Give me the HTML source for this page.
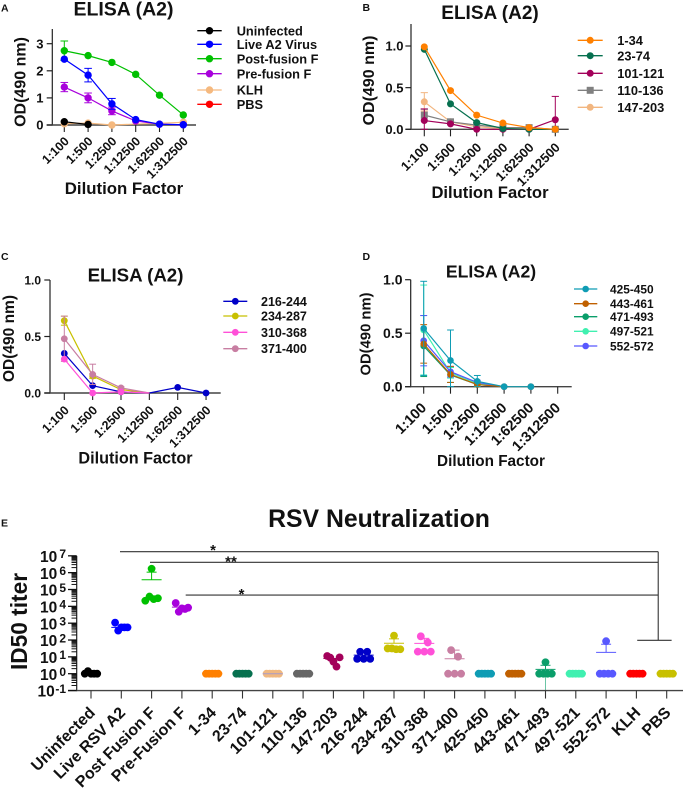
<!DOCTYPE html>
<html lang="en">
<head>
<meta charset="utf-8">
<title>ELISA and RSV Neutralization</title>
<style>
html,body{margin:0;padding:0;background:#fff;}
svg{display:block;}
text{font-family:"Liberation Sans",Arial,sans-serif;font-weight:bold;fill:#111;}
</style>
</head>
<body>
<svg id="fig" width="685" height="793" viewBox="0 0 685 793" xmlns="http://www.w3.org/2000/svg">
  <text x="1" y="11.7" font-size="10.5">A</text>
  <text x="362.5" y="11" font-size="10.5">B</text>
  <text x="1" y="260" font-size="10.5">C</text>
  <text x="362.5" y="260" font-size="10.5">D</text>
  <text x="1" y="526.5" font-size="10.5">E</text>

  <text x="123.5" y="15.5" font-size="19.5" text-anchor="middle">ELISA (A2)</text>
  <text x="490" y="19" font-size="19" text-anchor="middle">ELISA (A2)</text>
  <text x="135.5" y="281.7" font-size="18.7" text-anchor="middle">ELISA (A2)</text>
  <text x="491" y="277.3" font-size="17.6" text-anchor="middle">ELISA (A2)</text>
  <text x="379" y="527" font-size="24.8" text-anchor="middle">RSV Neutralization</text>

  <text transform="translate(25.7 82) rotate(-90)" font-size="16" text-anchor="middle">OD(490 nm)</text>
  <text transform="translate(374 80.5) rotate(-90)" font-size="16" text-anchor="middle">OD(490 nm)</text>
  <text transform="translate(14 338.5) rotate(-90)" font-size="15.5" text-anchor="middle">OD(490 nm)</text>
  <text transform="translate(370.7 334) rotate(-90)" font-size="14.8" text-anchor="middle">OD(490 nm)</text>
  <text transform="translate(27 621.5) rotate(-90)" font-size="22.7" text-anchor="middle">ID50 titer</text>

  <text x="124" y="194" font-size="16.8" text-anchor="middle">Dilution Factor</text>
  <text x="490" y="198" font-size="16.6" text-anchor="middle">Dilution Factor</text>
  <text x="135.5" y="463.3" font-size="16.2" text-anchor="middle">Dilution Factor</text>
  <text x="491" y="466" font-size="15.3" text-anchor="middle">Dilution Factor</text>
</svg>
<script>
// ---------- Shared categories ----------
const dilutionCategories = ['1:100', '1:500', '1:2500', '1:12500', '1:62500', '1:312500'];

// ---------- Chart A ----------
const aTicks = [0, 1, 2, 3];
const aNames = ['PBS', 'KLH', 'Pre-fusion F', 'Post-fusion F', 'Live A2 Virus', 'Uninfected'];
const aColors = ['#ff0000', '#f5b97f', '#a800dc', '#00c000', '#0000ff', '#000000'];
const aPbs = [null, null, null, null, null, null];
const aKlh = [0.05, 0.07, 0, null, null, 0.1];
const aPre = [1.4, 1.0, 0.52, 0.15, 0.03, 0.01];
const aPost = [2.74, 2.56, 2.31, 1.87, 1.1, 0.37];
const aLive = [2.43, 1.84, 0.78, 0.2, 0.03, 0.01];
const aUninfected = [0.12, 0.02, null, null, null, null];
const aPreErr = [0.17, 0.18, 0.14, 0, 0, 0];
const aPostErr = [0.36, 0, 0, 0, 0, 0];
const aLiveErr = [0, 0.25, 0.2, 0, 0, 0];
const aNoErr = [0, 0, 0, 0, 0, 0];

// ---------- Chart B ----------
const bTicks = [0, 0.5, 1];
const bNames = ['147-203', '110-136', '101-121', '23-74', '1-34'];
const bColors = ['#f2b680', '#808080', '#a3005a', '#06704f', '#ff8000'];
const b147 = [0.33, 0.09, 0.03, 0.01, 0.01, 0];
const b110 = [0.17, 0.09, 0.05, 0.02, 0.02, 0];
const b101 = [0.105, 0.065, 0, 0, 0, 0.115];
const b23 = [0.96, 0.305, 0.08, 0.01, 0, 0];
const b1 = [0.99, 0.465, 0.17, 0.075, 0.02, 0];
const b147Err = [0.11, 0, 0, 0, 0, 0];
const b110Err = [0.07, 0, 0, 0, 0, 0];
const b101Err = [0.14, 0, 0, 0, 0, 0.28];
const bNoErr = [0, 0, 0, 0, 0, 0];

// ---------- Chart C ----------
const cTicks = [0, 0.5, 1];
const cNames = ['216-244', '234-287', '371-400', '310-368'];
const cColors = ['#0000c8', '#c8c000', '#c87ea2', '#ff50d8'];
const c216 = [0.35, 0.065, 0.01, 0, 0.05, 0];
const c234 = [0.64, 0.15, 0.03, 0, null, null];
const c371 = [0.48, 0.165, 0.045, 0, null, null];
const c310 = [0.3, 0, 0.01, 0, null, null];
const c234Err = [0.04, 0.02, 0, 0, 0, 0];
const c371Err = [0.2, 0.09, 0.01, 0, 0, 0];
const cNoErr = [0, 0, 0, 0, 0, 0];

// ---------- Chart D ----------
const dTicks = [0, 0.5, 1];
const dNames = ['471-493', '497-521', '552-572', '443-461', '425-450'];
const dColors = ['#0a9e6a', '#40f0b0', '#5858ff', '#c06000', '#0f9cb4'];
const d471 = [0.38, 0.11, 0.02, 0, 0, null];
const d497 = [0.53, 0.13, 0.03, 0, 0, null];
const d552 = [0.43, 0.14, 0.04, 0, 0, null];
const d443 = [0.4, 0.115, 0.02, 0, 0, null];
const d425 = [0.545, 0.245, 0.05, 0, 0, null];
const d471Err = [0.285, 0.07, 0.02, 0, 0, 0];
const d497Err = [0.42, 0.05, 0.02, 0, 0, 0];
const d552Err = [0.235, 0.05, 0.02, 0, 0, 0];
const d443Err = [0.18, 0.075, 0.02, 0, 0, 0];
const d425Err = [0.44, 0.285, 0.055, 0, 0, 0];

// ---------- Chart E (log10 of ID50 titer) ----------
const eCategories = ['Uninfected', 'Live RSV A2', 'Post Fusion F', 'Pre-Fusion F', '1-34', '23-74', '101-121', '110-136', '147-203', '216-244', '234-287', '310-368', '371-400', '425-450', '443-461', '471-493', '497-521', '552-572', 'KLH', 'PBS'];
const eColors = ['#000000', '#0000ff', '#00c000', '#a800dc', '#ff8000', '#06704f', '#f0b880', '#666666', '#a3005a', '#0000c8', '#c8c000', '#ff50d8', '#c87ea2', '#0f9cb4', '#c06000', '#0a9e6a', '#40f0b0', '#5858ff', '#ff0000', '#c8c000'];
const eMeanColors = ['#000000', '#0000ff', '#00c000', '#a800dc', '#ff8000', '#06704f', '#a89ac8', '#666666', '#a3005a', '#0000c8', '#c8c000', '#ff50d8', '#c87ea2', '#0f9cb4', '#c06000', '#0a9e6a', '#40f0b0', '#5858ff', '#ff0000', '#c8c000'];
const eValues = [
  [0, 0.15, 0, 0, 0],
  [3.03, 2.56, 2.75, 2.75, 2.75],
  [6.23, 4.33, 4.58, 4.43, 4.48],
  [4.2, 3.68, 3.88, 3.84, 3.92],
  [0, 0, 0, 0, 0],
  [0, 0, 0, 0, 0],
  [0, 0, 0, 0, 0],
  [0, 0, 0, 0, 0],
  [1.05, 0.95, 0.71, 0.42, 0.97],
  [1.3, 1.3, 0.88, 0.88, 0.88],
  [2.26, 1.5, 1.5, 1.45, 1.45],
  [2.22, 1.85, 1.31, 1.31, 1.31],
  [1.4, 1.01, 0, 0, 0],
  [0, 0, 0, 0, 0],
  [0, 0, 0, 0, 0],
  [0.68, 0, 0, 0, 0],
  [0, 0, 0, 0, 0],
  [1.93, 0, 0, 0, 0],
  [0, 0, 0, 0, 0],
  [0, 0, 0, 0, 0]
];
const eMeans = [0, 2.75, 5.58, 3.95, 0, 0, 0, 0, 0.9, 1.1, 1.81, 1.8, 0.89, 0, 0, 0.26, 0, 1.27, 0, 0];
const eUpper = [null, null, 6.03, null, null, null, null, null, null, null, 2.07, 2.1, 1.4, null, null, 0.5, null, 1.75, null, null];
const eLower = [null, null, null, null, null, null, null, null, null, null, null, null, null, null, null, -1, null, null, null, null];
const eExponents = [-1, 0, 1, 2, 3, 4, 5, 6, 7];
const eBracketStars = ['*', '**', '*'];
const eBracketFromCategory = [0.957, 1.947, 3.125];
const eBracketStarCategory = [4.03, 4.62, 4.97];
const eBracketLogLevels = [7.245, 6.615, 4.67];
const eBracketToCategory = 18.72;
const eBracketEndLog = 1.98;

// ---------- Drawing helpers ----------
const SVG_NS = 'http://www.w3.org/2000/svg';
const fig = document.getElementById('fig');

function shape(tag, attrs, parent, text) {
  const el = document.createElementNS(SVG_NS, tag);
  for (const k in attrs) el.setAttribute(k, attrs[k]);
  if (text !== undefined) el.textContent = text;
  (parent || fig).appendChild(el);
  return el;
}
function line(x1, y1, x2, y2, stroke, width, parent) {
  return shape('line', {x1: x1, y1: y1, x2: x2, y2: y2, stroke: stroke, 'stroke-width': width}, parent);
}
function drawMarker(g, x, y, r, color, isSquare) {
  if (isSquare) return shape('rect', {x: x - r, y: y - r, width: 2 * r, height: 2 * r, fill: color}, g);
  return shape('circle', {cx: x, cy: y, r: r, fill: color}, g);
}

function linearPanel(id, p, ticks, names, colors, series, errors, squares, hideMarkerAt) {
  const xScale = i => p.x0 + i * p.dx;
  const yScale = v => p.y0 - v * p.unit;

  const axes = shape('g', {});
  
  
  const marks = shape('g', {});
  
  

  series.forEach((vals, s) => {
    const color = colors[s];
    const g = shape('g', {}, marks);
    
    
    vals.forEach((v, i) => {
      const e = errors[s][i];
      if (v === null || !e) return;
      const x = xScale(i);
      const top = yScale(v + e);
      const bottom = yScale(Math.max(0, v - e));
      line(x, top, x, bottom, color, 1, g);
      line(x - p.cap, top, x + p.cap, top, color, 1, g);
      line(x - p.cap, bottom, x + p.cap, bottom, color, 1, g);
    });
    const pts = [];
    vals.forEach((v, i) => { if (v !== null) pts.push(xScale(i) + ',' + yScale(v)); });
    if (pts.length) shape('polyline', {points: pts.join(' '), fill: 'none', stroke: color, 'stroke-width': 1.2}, g);
    vals.forEach((v, i) => {
      if (v === null || hideMarkerAt === i) return;
      drawMarker(g, xScale(i), yScale(v), p.r, color, squares.indexOf(s) >= 0);
    });
  });

  line(p.axisX, p.top, p.axisX, p.y0 + 0.6, '#222', 1.2, axes);
  line(p.axisX - p.yTick, p.y0, p.end, p.y0, '#444', 1.4, axes);
  ticks.forEach(t => {
    const y = yScale(t);
    line(p.axisX - p.yTick, y, p.axisX, y, '#222', 1.2, axes);
    const label = shape('text', {x: p.yLabelX, y: y + p.yFont * 0.36, 'font-size': p.yFont, 'text-anchor': 'end'}, axes, p.tickFormat(t));
    
    
  });
  dilutionCategories.forEach((c, i) => {
    const x = xScale(i);
    line(x, p.y0, x, p.y0 + p.xTick, '#222', 1.1, axes);
    const ax = x + p.labelDx;
    const ay = p.y0 + p.xTick + p.labelDy;
    const label = shape('text', {transform: 'translate(' + ax + ' ' + ay + ') rotate(-45)', 'font-size': p.xFont, 'text-anchor': 'end'}, axes, c);
    
    
  });

  const legend = shape('g', {});
  
  
  p.legendOrder.forEach((s, row) => {
    const y = p.legendY[row];
    const entry = shape('g', {}, legend);
    
    
    line(p.legendX, y, p.legendX + p.legendW, y, colors[s], 1.3, entry);
    drawMarker(entry, p.legendX + p.legendW / 2, y, p.r, colors[s], squares.indexOf(s) >= 0);
    shape('text', {x: p.legendTextX, y: y + p.legendFont * 0.36, 'font-size': p.legendFont}, entry, names[s]);
  });
}

const fixed0 = t => String(t);
const fixed1 = t => t.toFixed(1);

linearPanel('chart-a',
  {x0: 64.3, dx: 23.8, axisX: 52.3, end: 196, y0: 125, unit: 27.1, top: 29, yTick: 5.6, xTick: 7, cap: 3.8, r: 3.7,
   yLabelX: 43.5, yFont: 13, xFont: 12.5, labelDx: 5.5, labelDy: 10, tickFormat: fixed0,
   legendOrder: [5, 4, 3, 2, 1, 0], legendY: [30.7, 44.3, 58.7, 73.7, 90, 104.3],
   legendX: 197.3, legendW: 24.4, legendTextX: 236.7, legendFont: 12.8},
  aTicks, aNames, aColors,
  [aPbs, aKlh, aPre, aPost, aLive, aUninfected],
  [aNoErr, aNoErr, aPreErr, aPostErr, aLiveErr, aNoErr], [], -1);

linearPanel('chart-b',
  {x0: 424.3, dx: 26.2, axisX: 411, end: 568.7, y0: 129.3, unit: 83.3, top: 24, yTick: 5.6, xTick: 7, cap: 3.6, r: 3.5,
   yLabelX: 403.5, yFont: 13, xFont: 13, labelDx: 5.5, labelDy: 12, tickFormat: fixed1,
   legendOrder: [4, 3, 2, 1, 0], legendY: [40.3, 55.7, 73.3, 90.3, 107.3],
   legendX: 577.7, legendW: 25, legendTextX: 617.3, legendFont: 12.8},
  bTicks, bNames, bColors,
  [b147, b110, b101, b23, b1],
  [b147Err, b110Err, b101Err, bNoErr, bNoErr], [1], -1);

linearPanel('chart-c',
  {x0: 64.3, dx: 28.35, axisX: 50, end: 220.7, y0: 393, unit: 113, top: 280, yTick: 5.7, xTick: 7, cap: 3.4, r: 3.4,
   yLabelX: 41, yFont: 12, xFont: 12.5, labelDx: 5.5, labelDy: 11, tickFormat: fixed1,
   legendOrder: [0, 1, 3, 2], legendY: [301.3, 316, 332.3, 348.7],
   legendX: 223.3, legendW: 24, legendTextX: 261, legendFont: 12.5},
  cTicks, cNames, cColors,
  [c216, c234, c371, c310],
  [cNoErr, c234Err, c371Err, cNoErr], [], 3);

linearPanel('chart-d',
  {x0: 423.7, dx: 26.8, axisX: 410.7, end: 571.7, y0: 386.7, unit: 107, top: 279.7, yTick: 5.6, xTick: 7, cap: 3.4, r: 3.3,
   yLabelX: 402.5, yFont: 14, xFont: 14.5, labelDx: 3.5, labelDy: 15, tickFormat: fixed1,
   legendOrder: [4, 3, 0, 1, 2], legendY: [289, 303.7, 316.7, 331.3, 346],
   legendX: 574, legendW: 23.3, legendTextX: 610, legendFont: 11.9},
  dTicks, dNames, dColors,
  [d471, d497, d552, d443, d425],
  [d471Err, d497Err, d552Err, d443Err, d425Err], [], -1);

// ---------- Chart E ----------
const eX = i => 91 + i * 30.3;
const eY = logV => 673.7 - logV * 16.84;

// Points closer than 0.4 decades chain into one row; row members keep data order left to right.
function swarmOffsets(values) {
  const order = values.map((v, i) => i).sort((a, b) => values[b] - values[a]);
  const offsets = new Array(values.length).fill(0);
  let start = 0;
  while (start < order.length) {
    let end = start + 1;
    while (end < order.length && values[order[end - 1]] - values[order[end]] < 0.4) end++;
    const members = order.slice(start, end).sort((a, b) => a - b);
    const n = members.length;
    const spacing = n >= 5 ? 3.1 : n === 4 ? 4.2 : n === 3 ? 6.5 : 7;
    members.forEach((m, k) => { offsets[m] = (k - (n - 1) / 2) * spacing; });
    start = end;
  }
  return offsets;
}

const eMarks = shape('g', {});


eCategories.forEach((cat, i) => {
  const g = shape('g', {}, eMarks);
  
  
  const x = eX(i);
  const color = eColors[i];
  const offsets = swarmOffsets(eValues[i]);
  eValues[i].forEach((v, k) => {
    shape('circle', {cx: x + offsets[k], cy: eY(v), r: 3.9, fill: color}, g);
  });
  const meanColor = eMeanColors[i];
  const my = eY(eMeans[i]);
  line(x - 10, my, x + 10, my, meanColor, 1, g);
  if (eUpper[i] !== null) {
    const uy = eY(eUpper[i]);
    line(x, my, x, uy, meanColor, 1, g);
    line(x - 5, uy, x + 5, uy, meanColor, 1, g);
  }
  if (eLower[i] !== null) {
    const ly = eY(eLower[i]);
    line(x, my, x, ly, meanColor, 1, g).setAttribute('stroke-opacity', '0.6');
    line(x - 5, ly, x + 5, ly, meanColor, 1, g).setAttribute('stroke-opacity', '0.6');
  }
});

const eAxes = shape('g', {});


line(76.7, eY(7), 76.7, eY(-1) + 0.6, '#222', 1.2, eAxes);
line(68, eY(-1), 683, eY(-1), '#444', 1.3, eAxes);
eExponents.forEach(ex => {
  const y = eY(ex);
  line(68, y, 76.7, y, '#111', 1.3, eAxes);
  if (ex < 7) {
    for (let m = 2; m <= 9; m++) {
      const my = eY(ex + Math.log10(m));
      line(71.5, my, 76.7, my, '#111', 1, eAxes);
    }
  }
  const label = shape('text', {x: ex < 0 ? 54.8 : 57.3, y: y + 6.2, 'font-size': 15.5, 'text-anchor': 'end'}, eAxes, '10');
  
  
  const sup = shape('text', {x: 66, y: y + 2.3, 'font-size': 12, 'text-anchor': 'end'}, eAxes, String(ex));
  
  
});
eCategories.forEach((cat, i) => {
  const x = eX(i);
  line(x, eY(-1), x, eY(-1) + 8, '#333', 1.1, eAxes);
  const label = shape('text', {transform: 'translate(' + (x + 5) + ' ' + (eY(-1) + 23) + ') rotate(-45)', 'font-size': 16, 'text-anchor': 'end'}, eAxes, cat);
  
  
});

const eBrackets = shape('g', {});


const bracketRight = eX(eBracketToCategory);
eBracketStars.forEach((star, i) => {
  const y = eY(eBracketLogLevels[i]);
  line(eX(eBracketFromCategory[i]), y, bracketRight, y, '#333', 1.1, eBrackets);
  const starText = shape('text', {x: eX(eBracketStarCategory[i]), y: y + (i === 0 ? 3.3 : 4.1), 'font-size': 15, 'text-anchor': 'middle'}, eBrackets, star);
  
  
});
const bracketEndY = eY(eBracketEndLog);
line(bracketRight, eY(eBracketLogLevels[0]), bracketRight, bracketEndY, '#333', 1.1, eBrackets);
line(bracketRight - 21, bracketEndY, bracketRight + 13.4, bracketEndY, '#333', 1.1, eBrackets);
</script>
</body>
</html>
